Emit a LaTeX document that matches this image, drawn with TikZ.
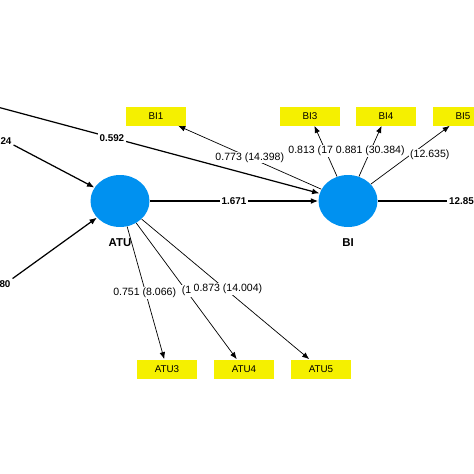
\documentclass[tikz,border=0pt]{standalone}
\usepackage{fontspec}
\setmainfont{Liberation Sans}
\usetikzlibrary{shapes.geometric,arrows.meta}
\definecolor{lvblue}{RGB}{0,145,240}
\definecolor{mvyellow}{RGB}{245,240,0}

\begin{document}
\begin{tikzpicture}[x=0.02cm,y=-0.02cm,
        lv/.style={ellipse,fill=lvblue,minimum width=1.18cm,minimum height=1.04cm,inner sep=0},
        lvname/.style={font=\fontsize{6.5}{7}\selectfont\bfseries},
        mv/.style={rectangle,fill=mvyellow,minimum width=1.2cm,minimum height=0.38cm,inner sep=0,font=\fontsize{5.6}{6}\selectfont},
        pathlab/.style={fill=white,inner sep=1pt,font=\fontsize{5.6}{6}\selectfont\bfseries},
        loadlab/.style={fill=white,inner sep=0.5pt,font=\fontsize{6}{7}\selectfont},
        pathline/.style={-{Latex[length=4.2pt,width=3.4pt]},line width=0.7pt},
        loadline/.style={-{Latex[length=4pt,width=3.2pt]},line width=0.4pt}]
                \path[use as bounding box,fill=white] (0,0) rectangle (474,474);

                \node[lv] (ATU) at (120,201) {};
                \node[lv] (BI) at (348,201) {};
                \node[lvname] (ATUname) at (120,243) {ATU};
                \node[lvname] (BIname) at (348,243) {BI};

                \node[mv] (BI1) at (156,116) {BI1};
                \node[mv] (BI3) at (310,116) {BI3};
                \node[mv] (BI4) at (386,116) {BI4};
                \node[mv] (BI5) at (463,116) {BI5};
                \node[mv] (ATU3) at (167,369) {ATU3};
                \node[mv] (ATU4) at (244,369) {ATU4};
                \node[mv] (ATU5) at (321,369) {ATU5};

                \coordinate (in1) at (-10,105);
                \node[pathlab] (in2) at (6,141) {24};
                \node[pathlab] (in3) at (5,284) {80};
                \node[pathlab,anchor=west] (out1) at (447,201) {12.85};

                \draw[pathline] (in1) -- node[pathlab,pos=0.37]{0.592} (BI);
                \draw[pathline] (in2) -- (ATU);
                \draw[pathline] (in3) -- (ATU);
                \draw[pathline] (ATU) -- node[pathlab]{1.671} (BI);
                \draw[line width=0.7pt] (BI) -- (out1);

                \draw[loadline] (BI) -- node[loadlab]{0.773 (14.398)} (BI1);
                \draw[loadline] (BI) -- node[loadlab,xshift=-0.3cm]{0.813 (17} (BI3);
                \draw[loadline] (BI) -- node[loadlab,xshift=0.39cm]{(12.635)} (BI5);
                \draw[loadline] (BI) -- node[loadlab]{0.881 (30.384)} (BI4);

                \draw[loadline] (ATU) -- node[loadlab]{(1} (ATU4);
                \draw[loadline] (ATU) -- node[loadlab,xshift=-0.02cm]{0.751 (8.066)} (ATU3);
                \draw[loadline] (ATU) -- node[loadlab,xshift=0.05cm]{0.873 (14.004)} (ATU5);
            \end{tikzpicture}
\end{document}
